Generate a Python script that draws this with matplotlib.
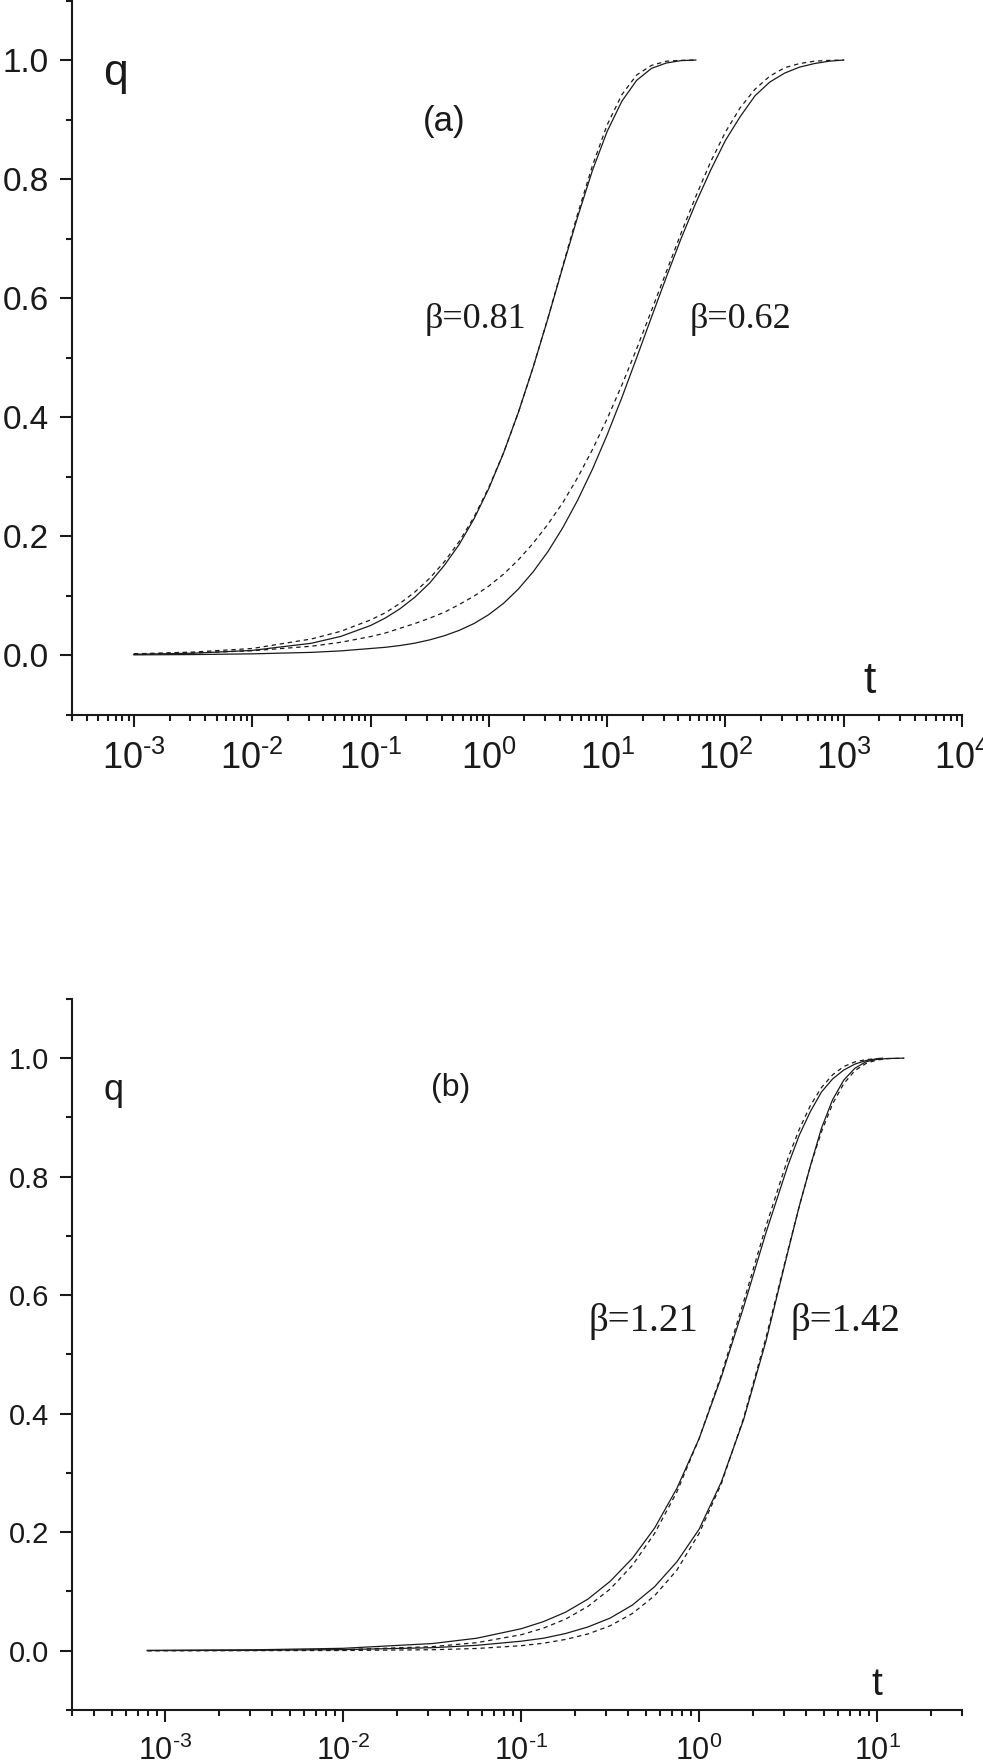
import numpy as np
import matplotlib.pyplot as plt
from matplotlib.ticker import LogLocator, FuncFormatter, NullFormatter, MultipleLocator

plt.rcParams['font.family'] = ['Liberation Sans', 'DejaVu Sans']
plt.rcParams['mathtext.fontset'] = 'custom'
plt.rcParams['mathtext.rm'] = 'Liberation Sans'
plt.rcParams['mathtext.it'] = 'Liberation Sans:italic'

# panel (a): values, t given as log10(t)
logt_a_081 = [-3, -2.5, -2, -1.5, -1.25, -1, -0.875, -0.75, -0.625, -0.5, -0.375, -0.25,
              -0.125, 0, 0.125, 0.25, 0.375, 0.5, 0.625, 0.75, 0.875, 1, 1.125, 1.25,
              1.375, 1.5, 1.625, 1.75]
q_a_081_solid = [0.0012, 0.0031, 0.0078, 0.0198, 0.0314, 0.0496, 0.0622, 0.0779, 0.0973,
                 0.121, 0.151, 0.186, 0.229, 0.280, 0.340, 0.408, 0.484, 0.566, 0.652,
                 0.736, 0.814, 0.880, 0.931, 0.966, 0.986, 0.995, 0.999, 1.0]
q_a_081_dash = [0.002, 0.005, 0.011, 0.027, 0.040, 0.059, 0.071, 0.087, 0.106, 0.129,
                0.157, 0.191, 0.232, 0.282, 0.340, 0.408, 0.484, 0.567, 0.654, 0.741,
                0.822, 0.891, 0.942, 0.975, 0.991, 0.998, 0.9995, 1.0]

logt_a_062 = [-3, -2.5, -2, -1.5, -1.25, -1, -0.875, -0.75, -0.625, -0.5, -0.375, -0.25,
              -0.125, 0, 0.125, 0.25, 0.375, 0.5, 0.625, 0.75, 0.875, 1, 1.125, 1.25,
              1.375, 1.5, 1.625, 1.75, 1.875, 2, 2.125, 2.25, 2.375, 2.5, 2.625, 2.75,
              2.875, 3]
q_a_062_solid = [0.0003, 0.0008, 0.002, 0.0045, 0.007, 0.011, 0.013, 0.016, 0.020, 0.0255,
                 0.0325, 0.0415, 0.053, 0.068, 0.087, 0.111, 0.140, 0.174, 0.214, 0.260,
                 0.312, 0.370, 0.433, 0.50, 0.568, 0.635, 0.70, 0.76, 0.815, 0.865,
                 0.905, 0.94, 0.963, 0.978, 0.988, 0.994, 0.998, 1.0]
q_a_062_dash = [0.0017, 0.0035, 0.0072, 0.0148, 0.0215, 0.031, 0.037, 0.045, 0.053, 0.062,
                0.072, 0.085, 0.099, 0.116, 0.136, 0.160, 0.188, 0.220, 0.256, 0.298,
                0.345, 0.397, 0.454, 0.515, 0.579, 0.644, 0.709, 0.771, 0.829, 0.879,
                0.920, 0.951, 0.973, 0.987, 0.994, 0.998, 0.9994, 1.0]

# panel (b)
logt_b_121 = [-3.1, -2.5, -2, -1.5, -1.25, -1, -0.875, -0.75, -0.625, -0.5, -0.375, -0.25,
              -0.125, 0, 0.125, 0.25, 0.375, 0.5, 0.5625, 0.625, 0.6875, 0.75, 0.8125,
              0.875, 0.9375, 1.0, 1.03]
q_b_121_solid = [0.0005, 0.0015, 0.004, 0.012, 0.021, 0.037, 0.049, 0.065, 0.087, 0.117,
                 0.156, 0.207, 0.274, 0.358, 0.462, 0.58, 0.705, 0.82, 0.87, 0.91, 0.943,
                 0.965, 0.98, 0.99, 0.996, 0.999, 1.0]
q_b_121_dash = [0.0001, 0.0004, 0.0017, 0.0068, 0.0135, 0.0269, 0.038, 0.0533, 0.0747,
                0.104, 0.144, 0.198, 0.268, 0.358, 0.466, 0.589, 0.716, 0.832, 0.880,
                0.920, 0.9506, 0.972, 0.9859, 0.9937, 0.9976, 0.9992, 1.0]

logt_b_142 = [-3.1, -2.5, -2, -1.5, -1.25, -1, -0.875, -0.75, -0.625, -0.5, -0.375, -0.25,
              -0.125, 0, 0.125, 0.25, 0.375, 0.5, 0.5625, 0.625, 0.6875, 0.75, 0.8125,
              0.875, 0.9375, 1.0, 1.0625, 1.15]
q_b_142_solid = [0.0002, 0.0006, 0.0018, 0.005, 0.009, 0.016, 0.021, 0.029, 0.040, 0.055,
                 0.077, 0.108, 0.15, 0.205, 0.285, 0.39, 0.522, 0.675, 0.750, 0.818, 0.882,
                 0.93, 0.963, 0.983, 0.994, 0.998, 0.9995, 1.0]
q_b_142_dash = [0.0, 0.0001, 0.0003, 0.0016, 0.0037, 0.0084, 0.0126, 0.019, 0.0282, 0.042,
                0.0627, 0.0928, 0.136, 0.198, 0.282, 0.393, 0.528, 0.677, 0.750, 0.818,
                0.876, 0.923, 0.957, 0.979, 0.9911, 0.997, 0.9992, 1.0]

ink = '#1a1a1a'
dash = (0, (3.5, 3))


def sci_label(v, pos):
    n = int(round(np.log10(v)))
    if n < 0:
        return r'$\mathregular{10^{\text{-}%d}}$' % (-n)
    return r'$\mathregular{10^{%d}}$' % n


def style_axes(ax, xlim, xfs, yfs):
    ax.set_xscale('log')
    ax.set_xlim(*xlim)
    ax.set_ylim(-0.1, 1.1)
    for s in ['top', 'right']:
        ax.spines[s].set_visible(False)
    for s in ['left', 'bottom']:
        ax.spines[s].set_linewidth(1.5)
        ax.spines[s].set_color(ink)
    ax.xaxis.set_major_locator(LogLocator(base=10, numticks=20))
    ax.xaxis.set_minor_locator(LogLocator(base=10, subs=np.arange(2, 10), numticks=20))
    ax.xaxis.set_major_formatter(FuncFormatter(sci_label))
    ax.xaxis.set_minor_formatter(NullFormatter())
    ax.yaxis.set_major_locator(MultipleLocator(0.2))
    ax.yaxis.set_minor_locator(MultipleLocator(0.1))
    ax.yaxis.set_major_formatter(FuncFormatter(lambda v, p: '%.1f' % v))
    ax.tick_params(which='major', direction='out', length=8.6, width=1.5, color=ink,
                   labelcolor=ink)
    ax.tick_params(which='minor', direction='out', length=4.3, width=1.5, color=ink)
    ax.tick_params(axis='y', which='major', pad=8, labelsize=yfs)
    ax.tick_params(axis='x', which='major', pad=10, labelsize=xfs)


def draw_pair(ax, logt, solid, dashed):
    t = 10.0 ** np.array(logt)
    ax.plot(t, solid, color=ink, lw=0.9)
    ax.plot(t, dashed, color=ink, lw=0.9, ls=dash)


fig = plt.figure(figsize=(9.83, 17.63), dpi=100)

ax1 = fig.add_axes([0.0733, 0.5947, 0.9054, 0.405])
style_axes(ax1, (3e-4, 1e4), 26, 24)
draw_pair(ax1, logt_a_081, q_a_081_solid, q_a_081_dash)
draw_pair(ax1, logt_a_062, q_a_062_solid, q_a_062_dash)
ax1.text(5.5e-4, 0.958, 'q', fontsize=32, color=ink, ha='left', va='baseline')
ax1.text(1650, -0.064, 't', fontsize=32, color=ink, ha='center', va='baseline')
ax1.text(0.42, 0.897, '(a)', fontsize=25, color=ink, ha='center', va='center')
ax1.text(0.287, 0.55, 'β=0.81', fontsize=26, color=ink, family='Liberation Serif',
         ha='left', va='baseline')
ax1.text(49.8, 0.55, 'β=0.62', fontsize=26, color=ink, family='Liberation Serif',
         ha='left', va='baseline')

ax2 = fig.add_axes([0.0733, 0.0301, 0.9054, 0.4033])
style_axes(ax2, (3e-4, 3e1), 22, 21)
draw_pair(ax2, logt_b_121, q_b_121_solid, q_b_121_dash)
draw_pair(ax2, logt_b_142, q_b_142_solid, q_b_142_dash)
ax2.text(4.5e-4, 0.93, 'q', fontsize=26, color=ink, ha='left', va='baseline')
ax2.text(10, -0.074, 't', fontsize=28, color=ink, ha='center', va='baseline')
ax2.text(0.04, 0.95, '(b)', fontsize=23, color=ink, ha='center', va='center')
ax2.text(0.24, 0.54, 'β=1.21', fontsize=28, color=ink, family='Liberation Serif',
         ha='left', va='baseline')
ax2.text(3.25, 0.54, 'β=1.42', fontsize=28, color=ink, family='Liberation Serif',
         ha='left', va='baseline')

fig.savefig('out.png', dpi=100)
